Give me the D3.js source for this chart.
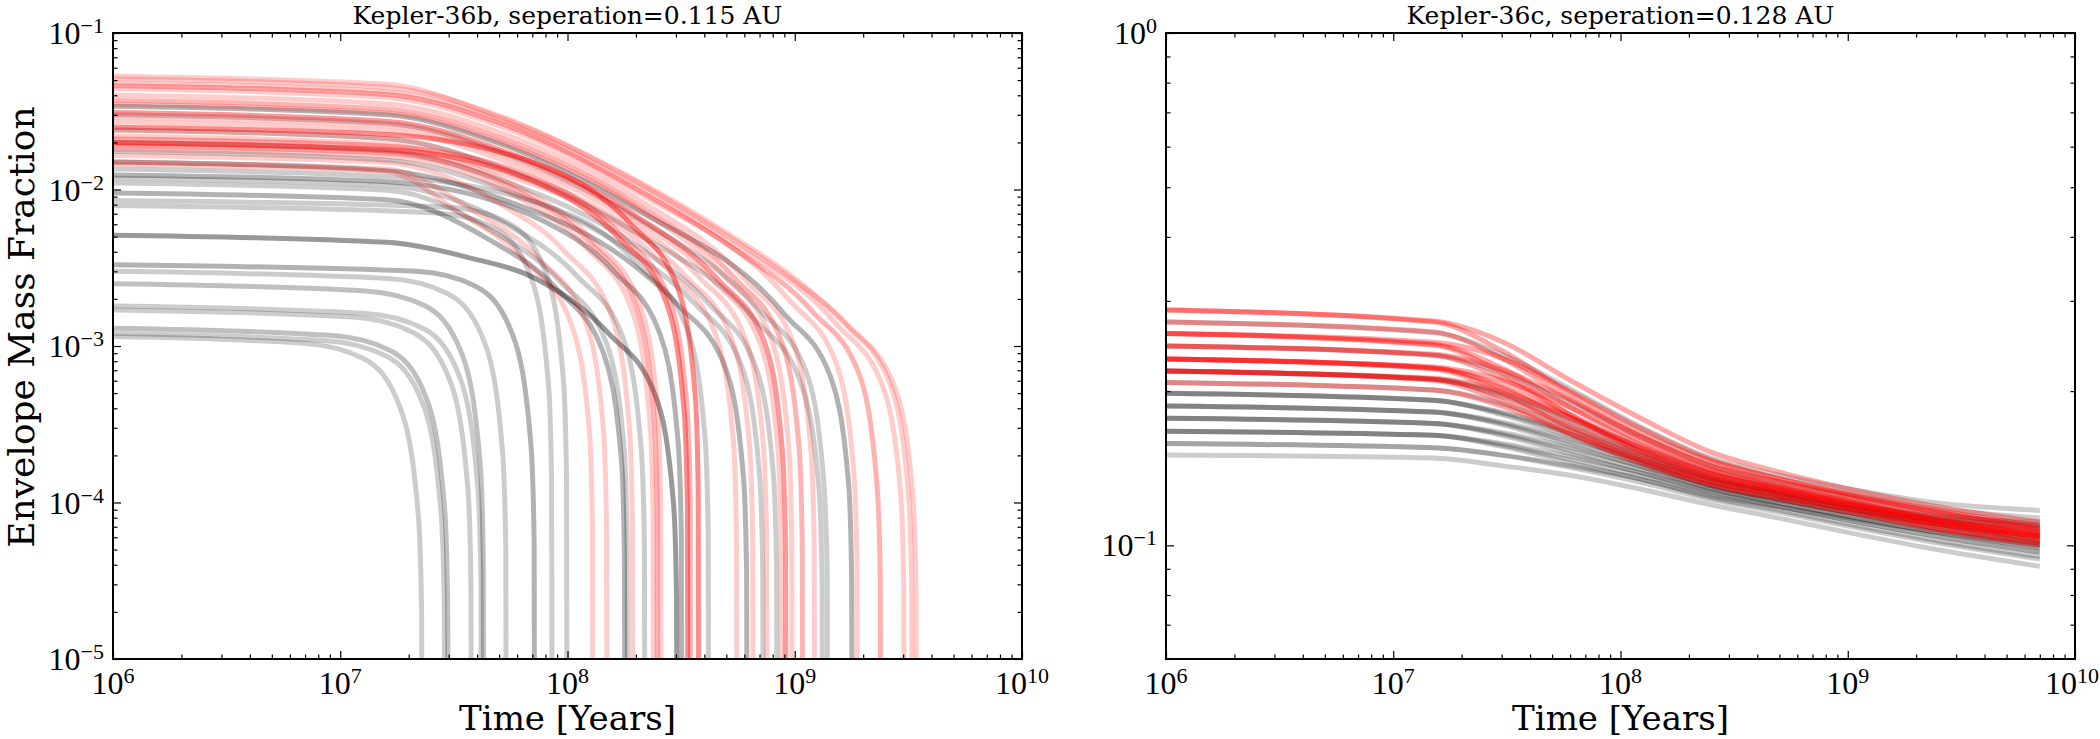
<!DOCTYPE html>
<html>
<head>
<meta charset="utf-8">
<script src="https://cdn.jsdelivr.net/npm/d3@7"></script>
<style>
  body { margin: 0; background: #fff; }
  text { font-family: "DejaVu Serif", serif; fill: #000; }
  .tick-label { font-family: "Liberation Serif", serif; font-size: 32px; }
</style>
</head>
<body>
<svg id="chart" width="2100" height="739"></svg>
<script>
// Kepler-36b tracks: [time (yr), envelope mass fraction]
// each track ends where the envelope is gone (last point drops far below the axis)
let bGrayTracks = [
  [[1e6,0.00115],[6.9e6,0.00104],[1.27e7,0.00083],[1.84e7,0.0004],[2.21e7,8e-5],[2.28e7,2e-5],[2.3e7,1e-7]],
  [[1e6,0.0012],[8.7e6,0.00108],[1.6e7,0.00086],[2.32e7,0.00042],[2.78e7,8.4e-5],[2.87e7,2.1e-5],[2.9e7,1e-7]],
  [[1e6,0.0013],[9e6,0.00117],[1.65e7,0.00094],[2.4e7,0.00046],[2.88e7,9.1e-5],[2.97e7,2.3e-5],[3.0e7,1e-7]],
  [[1e6,0.0017],[1.14e7,0.00153],[2.09e7,0.00122],[3.04e7,0.0006],[3.65e7,1.2e-4],[3.76e7,3e-5],[3.8e7,1e-7]],
  [[1e6,0.0018],[1.26e7,0.00162],[2.31e7,0.0013],[3.36e7,0.00063],[4.03e7,1.26e-4],[4.16e7,3.2e-5],[4.2e7,1e-7]],
  [[1e6,0.0025],[1.29e7,0.00225],[2.37e7,0.0018],[3.44e7,0.00088],[4.13e7,1.75e-4],[4.26e7,4.4e-5],[4.3e7,1e-7]],
  [[1e6,0.003],[1.62e7,0.0027],[2.97e7,0.00216],[4.32e7,0.00105],[5.18e7,2.1e-4],[5.35e7,5.3e-5],[5.4e7,1e-7]],
  [[1e6,0.0033],[2.16e7,0.003],[3.96e7,0.0024],[5.76e7,0.00116],[6.91e7,2.3e-4],[7.13e7,5.8e-5],[7.2e7,1e-7]],
  [[1e6,0.0079],[2.58e7,0.0071],[4.73e7,0.0057],[6.88e7,0.0028],[8.26e7,5.5e-4],[8.51e7,1.4e-4],[8.6e7,1e-7]],
  [[1e6,0.0085],[3e7,0.0077],[5.5e7,0.0061],[8e7,0.003],[9.6e7,6e-4],[9.9e7,1.5e-4],[1e8,1e-7]],
  [[1e6,0.0051],[1.6e7,0.0046],[3.6e7,0.0037],[7.6e7,0.0026],[1.52e8,0.0012],[2.44e8,4.8e-4],[2.93e8,9.7e-5],[3.02e8,2.4e-5],[3.05e8,1e-7]],
  [[1e6,0.0095],[1.6e7,0.0086],[4.5e7,0.0048],[9e7,0.0023],[1.44e8,9e-4],[1.73e8,1.8e-4],[1.78e8,4.5e-5],[1.8e8,1e-7]],
  [[1e6,0.011],[1.6e7,0.0099],[4.6e7,0.0055],[9.25e7,0.0026],[1.48e8,0.00105],[1.78e8,2.1e-4],[1.83e8,5.2e-5],[1.85e8,1e-7]],
  [[1e6,0.0118],[1.6e7,0.0106],[5.5e7,0.0059],[1.1e8,0.0028],[1.76e8,0.00112],[2.11e8,2.2e-4],[2.18e8,5.6e-5],[2.2e8,1e-7]],
  [[1e6,0.0124],[1.6e7,0.0112],[8e7,0.0062],[1.6e8,0.003],[2.56e8,0.00118],[3.07e8,2.4e-4],[3.17e8,5.9e-5],[3.2e8,1e-7]],
  [[1e6,0.0135],[1.6e7,0.0121],[1.05e8,0.0068],[2.1e8,0.0032],[3.36e8,0.00128],[4.03e8,2.6e-4],[4.16e8,6.4e-5],[4.2e8,1e-7]],
  [[1e6,0.015],[1.6e7,0.0132],[5e7,0.0088],[2e8,0.0032],[3.1e8,0.0018],[4.96e8,7.2e-4],[5.95e8,1.44e-4],[6.14e8,3.6e-5],[6.2e8,1e-7]],
  [[1e6,0.0175],[1.6e7,0.0154],[5e7,0.0102],[2e8,0.0038],[3.65e8,0.00185],[5.84e8,7.4e-4],[7.0e8,1.5e-4],[7.23e8,3.7e-5],[7.3e8,1e-7]],
  [[1e6,0.02],[1.6e7,0.0176],[5e7,0.0116],[2e8,0.0044],[4.2e8,0.00185],[6.72e8,7.4e-4],[8.06e8,1.5e-4],[8.32e8,3.7e-5],[8.4e8,1e-7]],
  [[1e6,0.024],[1.6e7,0.0211],[5e7,0.0139],[2e8,0.0053],[6.65e8,0.00148],[1.06e9,5.9e-4],[1.28e9,1.2e-4],[1.32e9,3e-5],[1.33e9,1e-7]],
  [[1e6,0.03],[1.6e7,0.0264],[5e7,0.0174],[2e8,0.0066],[7e8,0.0017],[1.12e9,6.9e-4],[1.34e9,1.4e-4],[1.39e9,3.5e-5],[1.4e9,1e-7]],
  [[1e6,0.034],[1.6e7,0.03],[5e7,0.0197],[2e8,0.0075],[9e8,0.0016],[1.44e9,6.3e-4],[1.73e9,1.26e-4],[1.78e9,3.2e-5],[1.8e9,1e-7]]
];
let bGrayAlpha = [0.2, 0.2, 0.25, 0.2, 0.2, 0.25, 0.2, 0.3, 0.2, 0.2, 0.4,
                  0.3, 0.2, 0.2, 0.3, 0.2, 0.3, 0.2, 0.2, 0.2, 0.2, 0.3];

let bRedTracks = [
  [[1e6,0.053],[1.6e7,0.047],[5e7,0.029],[2e8,0.0115],[5e8,0.0053],[1e9,0.0027],[1.65e9,0.0014],[2.64e9,5.6e-4],[3.17e9,1.1e-4],[3.27e9,2.8e-5],[3.3e9,1e-7]],
  [[1e6,0.051],[1.6e7,0.0449],[5e7,0.0296],[2e8,0.0112],[5e8,0.0051],[1e9,0.0026],[1.725e9,0.00135],[2.76e9,5.4e-4],[3.31e9,1.1e-4],[3.42e9,2.7e-5],[3.45e9,1e-7]],
  [[1e6,0.048],[1.6e7,0.0422],[5e7,0.0278],[2e8,0.0106],[5e8,0.0048],[1.525e9,0.00138],[2.44e9,5.5e-4],[2.93e9,1.1e-4],[3.02e9,2.8e-5],[3.05e9,1e-7]],
  [[1e6,0.046],[1.6e7,0.0405],[5e7,0.0267],[2e8,0.0101],[5e8,0.0045],[1.2e9,0.00165],[1.92e9,6.6e-4],[2.3e9,1.3e-4],[2.38e9,3.3e-5],[2.4e9,1e-7]],
  [[1e6,0.044],[1.6e7,0.0387],[5e7,0.0255],[2e8,0.0097],[9.5e8,0.00195],[1.52e9,7.8e-4],[1.82e9,1.56e-4],[1.88e9,3.9e-5],[1.9e9,1e-7]],
  [[1e6,0.04],[1.6e7,0.0352],[5e7,0.0232],[2e8,0.0088],[6.15e8,0.0026],[9.84e8,0.00105],[1.18e9,2.1e-4],[1.218e9,5.3e-5],[1.23e9,1e-7]],
  [[1e6,0.037],[1.6e7,0.0326],[5e7,0.0215],[2e8,0.0081],[5.45e8,0.0027],[8.72e8,0.00108],[1.046e9,2.2e-4],[1.079e9,5.4e-5],[1.09e9,1e-7]],
  [[1e6,0.035],[1.6e7,0.0308],[5e7,0.0203],[2e8,0.0077],[4.9e8,0.0028],[7.84e8,0.00113],[9.41e8,2.3e-4],[9.7e8,5.7e-5],[9.8e8,1e-7]],
  [[1e6,0.031],[1.6e7,0.0273],[5e7,0.018],[2e8,0.0068],[4.6e8,0.00265],[7.36e8,0.00106],[8.83e8,2.1e-4],[9.11e8,5.3e-5],[9.2e8,1e-7]],
  [[1e6,0.029],[1.6e7,0.0255],[5e7,0.0168],[2e8,0.0064],[4.4e8,0.0026],[7.04e8,0.00104],[8.45e8,2.1e-4],[8.71e8,5.2e-5],[8.8e8,1e-7]],
  [[1e6,0.027],[1.6e7,0.0238],[5e7,0.0157],[2e8,0.0059],[3.8e8,0.00275],[6.08e8,0.0011],[7.3e8,2.2e-4],[7.52e8,5.5e-5],[7.6e8,1e-7]],
  [[1e6,0.025],[1.6e7,0.0225],[9.5e7,0.0125],[1.9e8,0.006],[3.04e8,0.0024],[3.65e8,4.8e-4],[3.76e8,1.2e-4],[3.8e8,1e-7]],
  [[1e6,0.024],[1.6e7,0.0211],[5e7,0.0139],[2e8,0.0053],[3.3e8,0.0028],[5.28e8,0.00111],[6.34e8,2.2e-4],[6.53e8,5.6e-5],[6.6e8,1e-7]],
  [[1e6,0.022],[1.6e7,0.0194],[5e7,0.0128],[2e8,0.0048],[2.8e8,0.003],[4.48e8,0.00119],[5.38e8,2.4e-4],[5.54e8,6e-5],[5.6e8,1e-7]],
  [[1e6,0.021],[1.6e7,0.0189],[8.75e7,0.0105],[1.75e8,0.005],[2.8e8,0.002],[3.36e8,4e-4],[3.47e8,1e-4],[3.5e8,1e-7]],
  [[1e6,0.02],[1.6e7,0.018],[8.5e7,0.01],[1.7e8,0.0048],[2.72e8,0.0019],[3.26e8,3.8e-4],[3.37e8,9.5e-5],[3.4e8,1e-7]],
  [[1e6,0.0195],[1.6e7,0.0176],[6.5e7,0.0098],[1.3e8,0.0047],[2.08e8,0.00185],[2.5e8,3.7e-4],[2.57e8,9.3e-5],[2.6e8,1e-7]],
  [[1e6,0.019],[1.6e7,0.0171],[6.25e7,0.0095],[1.25e8,0.0046],[2e8,0.0018],[2.4e8,3.6e-4],[2.48e8,9e-5],[2.5e8,1e-7]],
  [[1e6,0.018],[1.6e7,0.0162],[6e7,0.009],[1.2e8,0.0043],[1.92e8,0.0017],[2.3e8,3.4e-4],[2.38e8,8.5e-5],[2.4e8,1e-7]],
  [[1e6,0.0165],[1.6e7,0.0149],[4.9e7,0.0083],[9.75e7,0.004],[1.56e8,0.00157],[1.87e8,3.1e-4],[1.93e8,7.8e-5],[1.95e8,1e-7]],
  [[1e6,0.015],[1.6e7,0.0135],[3.75e7,0.0075],[7.5e7,0.0036],[1.2e8,0.00143],[1.44e8,2.9e-4],[1.485e8,7.1e-5],[1.5e8,1e-7]],
  [[1e6,0.0145],[1.6e7,0.013],[3.25e7,0.0073],[6.5e7,0.0035],[1.04e8,0.00138],[1.25e8,2.8e-4],[1.287e8,6.9e-5],[1.3e8,1e-7]]
];
let bRedAlpha = [0.2, 0.2, 0.2, 0.3, 0.2, 0.2, 0.3, 0.2, 0.4, 0.2, 0.2,
                 0.45, 0.2, 0.2, 0.3, 0.45, 0.2, 0.3, 0.2, 0.2, 0.2, 0.2];

// Kepler-36c: every track sampled on the same time grid
let cTimes = [1e6, 1.5e7, 3e7, 6e7, 1.2e8, 2.5e8, 5e8, 1e9, 2.5e9, 7e9];
let cRedTracks = [
  [.288,.273,.240,.198,.167,.146,.135,.126,.117,.109],
  [.288,.274,.250,.210,.178,.152,.139,.129,.119,.111],
  [.273,.261,.232,.193,.163,.143,.133,.125,.116,.108],
  [.259,.247,.222,.186,.158,.140,.130,.122,.113,.106],
  [.259,.249,.232,.200,.170,.147,.135,.126,.116,.108],
  [.259,.246,.217,.180,.153,.136,.127,.119,.110,.103],
  [.245,.235,.212,.180,.155,.138,.129,.121,.112,.105],
  [.245,.236,.220,.192,.164,.143,.132,.124,.114,.107],
  [.231,.222,.203,.174,.151,.135,.127,.120,.111,.104],
  [.231,.223,.210,.186,.160,.140,.130,.122,.112,.105],
  [.231,.221,.199,.169,.147,.132,.124,.117,.108,.101],
  [.231,.222,.205,.178,.154,.137,.128,.121,.112,.106],
  [.219,.211,.195,.170,.149,.134,.126,.119,.110,.104],
  [.219,.212,.200,.178,.156,.138,.129,.121,.111,.104],
  [.219,.210,.191,.165,.145,.131,.123,.116,.107,.100],
  [.208,.201,.187,.165,.147,.133,.125,.118,.109,.102]
];
let cGrayTracks = [
  [.273,.260,.236,.202,.171,.148,.137,.129,.121,.117],
  [.245,.235,.217,.190,.164,.143,.133,.126,.118,.113],
  [.219,.211,.198,.177,.156,.139,.130,.123,.115,.110],
  [.219,.211,.196,.174,.153,.136,.127,.119,.110,.102],
  [.208,.201,.189,.170,.151,.135,.126,.118,.110,.103],
  [.198,.192,.181,.165,.148,.133,.125,.118,.112,.108],
  [.198,.192,.180,.163,.146,.131,.123,.116,.108,.101],
  [.198,.192,.182,.167,.150,.135,.127,.120,.113,.109],
  [.187,.182,.173,.159,.145,.131,.123,.116,.108,.101],
  [.187,.182,.174,.161,.147,.134,.126,.120,.114,.111],
  [.187,.182,.172,.157,.143,.129,.121,.114,.106,.099],
  [.177,.173,.165,.153,.141,.129,.121,.114,.106,.099],
  [.177,.173,.166,.155,.143,.131,.124,.118,.112,.106],
  [.177,.173,.164,.151,.139,.127,.119,.112,.104,.097],
  [.167,.164,.157,.147,.137,.126,.119,.112,.104,.097],
  [.167,.164,.158,.149,.139,.128,.122,.116,.110,.104],
  [.167,.164,.156,.145,.135,.124,.117,.110,.102,.095],
  [.158,.155,.150,.142,.133,.123,.116,.109,.101,.094],
  [.158,.155,.150,.143,.135,.125,.119,.113,.106,.100],
  [.150,.148,.143,.137,.129,.120,.113,.106,.098,.091]
];

let xMajor = [1e6, 1e7, 1e8, 1e9, 1e10];
let bYMajor = [1e-5, 1e-4, 1e-3, 1e-2, 1e-1];
let cYMajor = [1e-1, 1];

let plotTop = 33, plotBottom = 659;
let svg = d3.select('#chart');

let isMajor = v => Math.abs(Math.log10(v) - Math.round(Math.log10(v))) < 1e-6;

// "10" with the exponent as a raised tspan
function powerLabel(sel) {
  sel.text('10')
    .append('tspan')
    .attr('dy', -11)
    .attr('font-size', 22)
    .text(d => String(Math.round(Math.log10(d))).replace('-', '\u2212'));
}

function drawPanel(p) {
  let x = d3.scaleLog().domain([1e6, 1e10]).range([p.left, p.right]);
  let y = d3.scaleLog().domain(p.yDomain).range([plotBottom, plotTop]);
  let g = svg.append('g');

  g.append('clipPath').attr('id', 'clip-' + p.id)
    .append('rect')
    .attr('x', p.left).attr('y', plotTop)
    .attr('width', p.right - p.left).attr('height', plotBottom - plotTop);

  let line = d3.line()
    .x(d => x(d[0]))
    .y(d => y(d[1]))
    .curve(d3.curveMonotoneX);

  g.append('g')
    .attr('clip-path', `url(#clip-${p.id})`)
    .selectAll('path')
    .data(p.tracks)
    .join('path')
    .attr('d', d => line(d.pts))
    .attr('fill', 'none')
    .attr('stroke', d => d.color)
    .attr('stroke-opacity', d => d.alpha)
    .attr('stroke-width', 5)
    .attr('stroke-linejoin', 'round');

  // ticks on all four sides, pointing inward
  let xMinor = x.ticks().filter(v => !isMajor(v));
  let yMinor = y.ticks().filter(v => !isMajor(v));
  let sides = [
    [d3.axisBottom(x), `translate(0,${plotBottom})`, xMajor, xMinor],
    [d3.axisTop(x), `translate(0,${plotTop})`, xMajor, xMinor],
    [d3.axisLeft(y), `translate(${p.left},0)`, p.yMajor, yMinor],
    [d3.axisRight(y), `translate(${p.right},0)`, p.yMajor, yMinor]
  ];
  sides.forEach(([axis, tr, major, minor]) => {
    [[major, -8], [minor, -4.5]].forEach(([vals, len]) => {
      g.append('g')
        .attr('transform', tr)
        .call(axis.tickValues(vals).tickSize(len).tickFormat(''))
        .call(s => s.select('.domain').remove())
        .call(s => s.selectAll('.tick line').attr('stroke', '#000').attr('stroke-width', 1.2));
    });
  });

  g.append('rect')
    .attr('x', p.left).attr('y', plotTop)
    .attr('width', p.right - p.left).attr('height', plotBottom - plotTop)
    .attr('fill', 'none').attr('stroke', '#000').attr('stroke-width', 2);

  g.selectAll('.xlab')
    .data(xMajor)
    .join('text')
    .attr('class', 'tick-label xlab')
    .attr('x', d => x(d))
    .attr('y', 694)
    .attr('text-anchor', 'middle')
    .call(powerLabel)
    // keep the last label of the right panel inside the page
    .each(function () {
      let b = this.getBBox();
      if (b.x + b.width > 2099) d3.select(this).attr('x', +this.getAttribute('x') - (b.x + b.width - 2099));
    });

  g.selectAll('.ylab')
    .data(p.yMajor)
    .join('text')
    .attr('class', 'tick-label ylab')
    .attr('x', p.left - 9)
    .attr('y', d => y(d) + 11)
    .attr('text-anchor', 'end')
    .call(powerLabel);

  let cx = (p.left + p.right) / 2;
  g.append('text')
    .attr('x', cx).attr('y', 23.5)
    .attr('text-anchor', 'middle')
    .attr('font-size', 25)
    .text(p.title);

  g.append('text')
    .attr('x', cx).attr('y', 730)
    .attr('text-anchor', 'middle')
    .attr('font-size', 34)
    .text('Time [Years]');

  if (p.yLabel) {
    g.append('text')
      .attr('transform', `translate(34,327) rotate(-90)`)
      .attr('text-anchor', 'middle')
      .attr('font-size', 36)
      .text(p.yLabel);
  }
}

let bTracks = bGrayTracks.map((pts, i) => ({pts, color: '#000', alpha: bGrayAlpha[i]}))
  .concat(bRedTracks.map((pts, i) => ({pts, color: '#ff0000', alpha: bRedAlpha[i]})));

let cTracks = cGrayTracks.map(v => ({pts: cTimes.map((t, i) => [t, v[i]]), color: '#000', alpha: 0.2}))
  .concat(cRedTracks.map(v => ({pts: cTimes.map((t, i) => [t, v[i]]), color: '#ff0000', alpha: 0.35})));

drawPanel({
  id: 'b', left: 113, right: 1022,
  yDomain: [1e-5, 1e-1], yMajor: bYMajor,
  title: 'Kepler-36b, seperation=0.115 AU',
  yLabel: 'Envelope Mass Fraction',
  tracks: bTracks
});

drawPanel({
  id: 'c', left: 1166, right: 2075,
  yDomain: [0.06, 1], yMajor: cYMajor,
  title: 'Kepler-36c, seperation=0.128 AU',
  tracks: cTracks
});
</script>
</body>
</html>
